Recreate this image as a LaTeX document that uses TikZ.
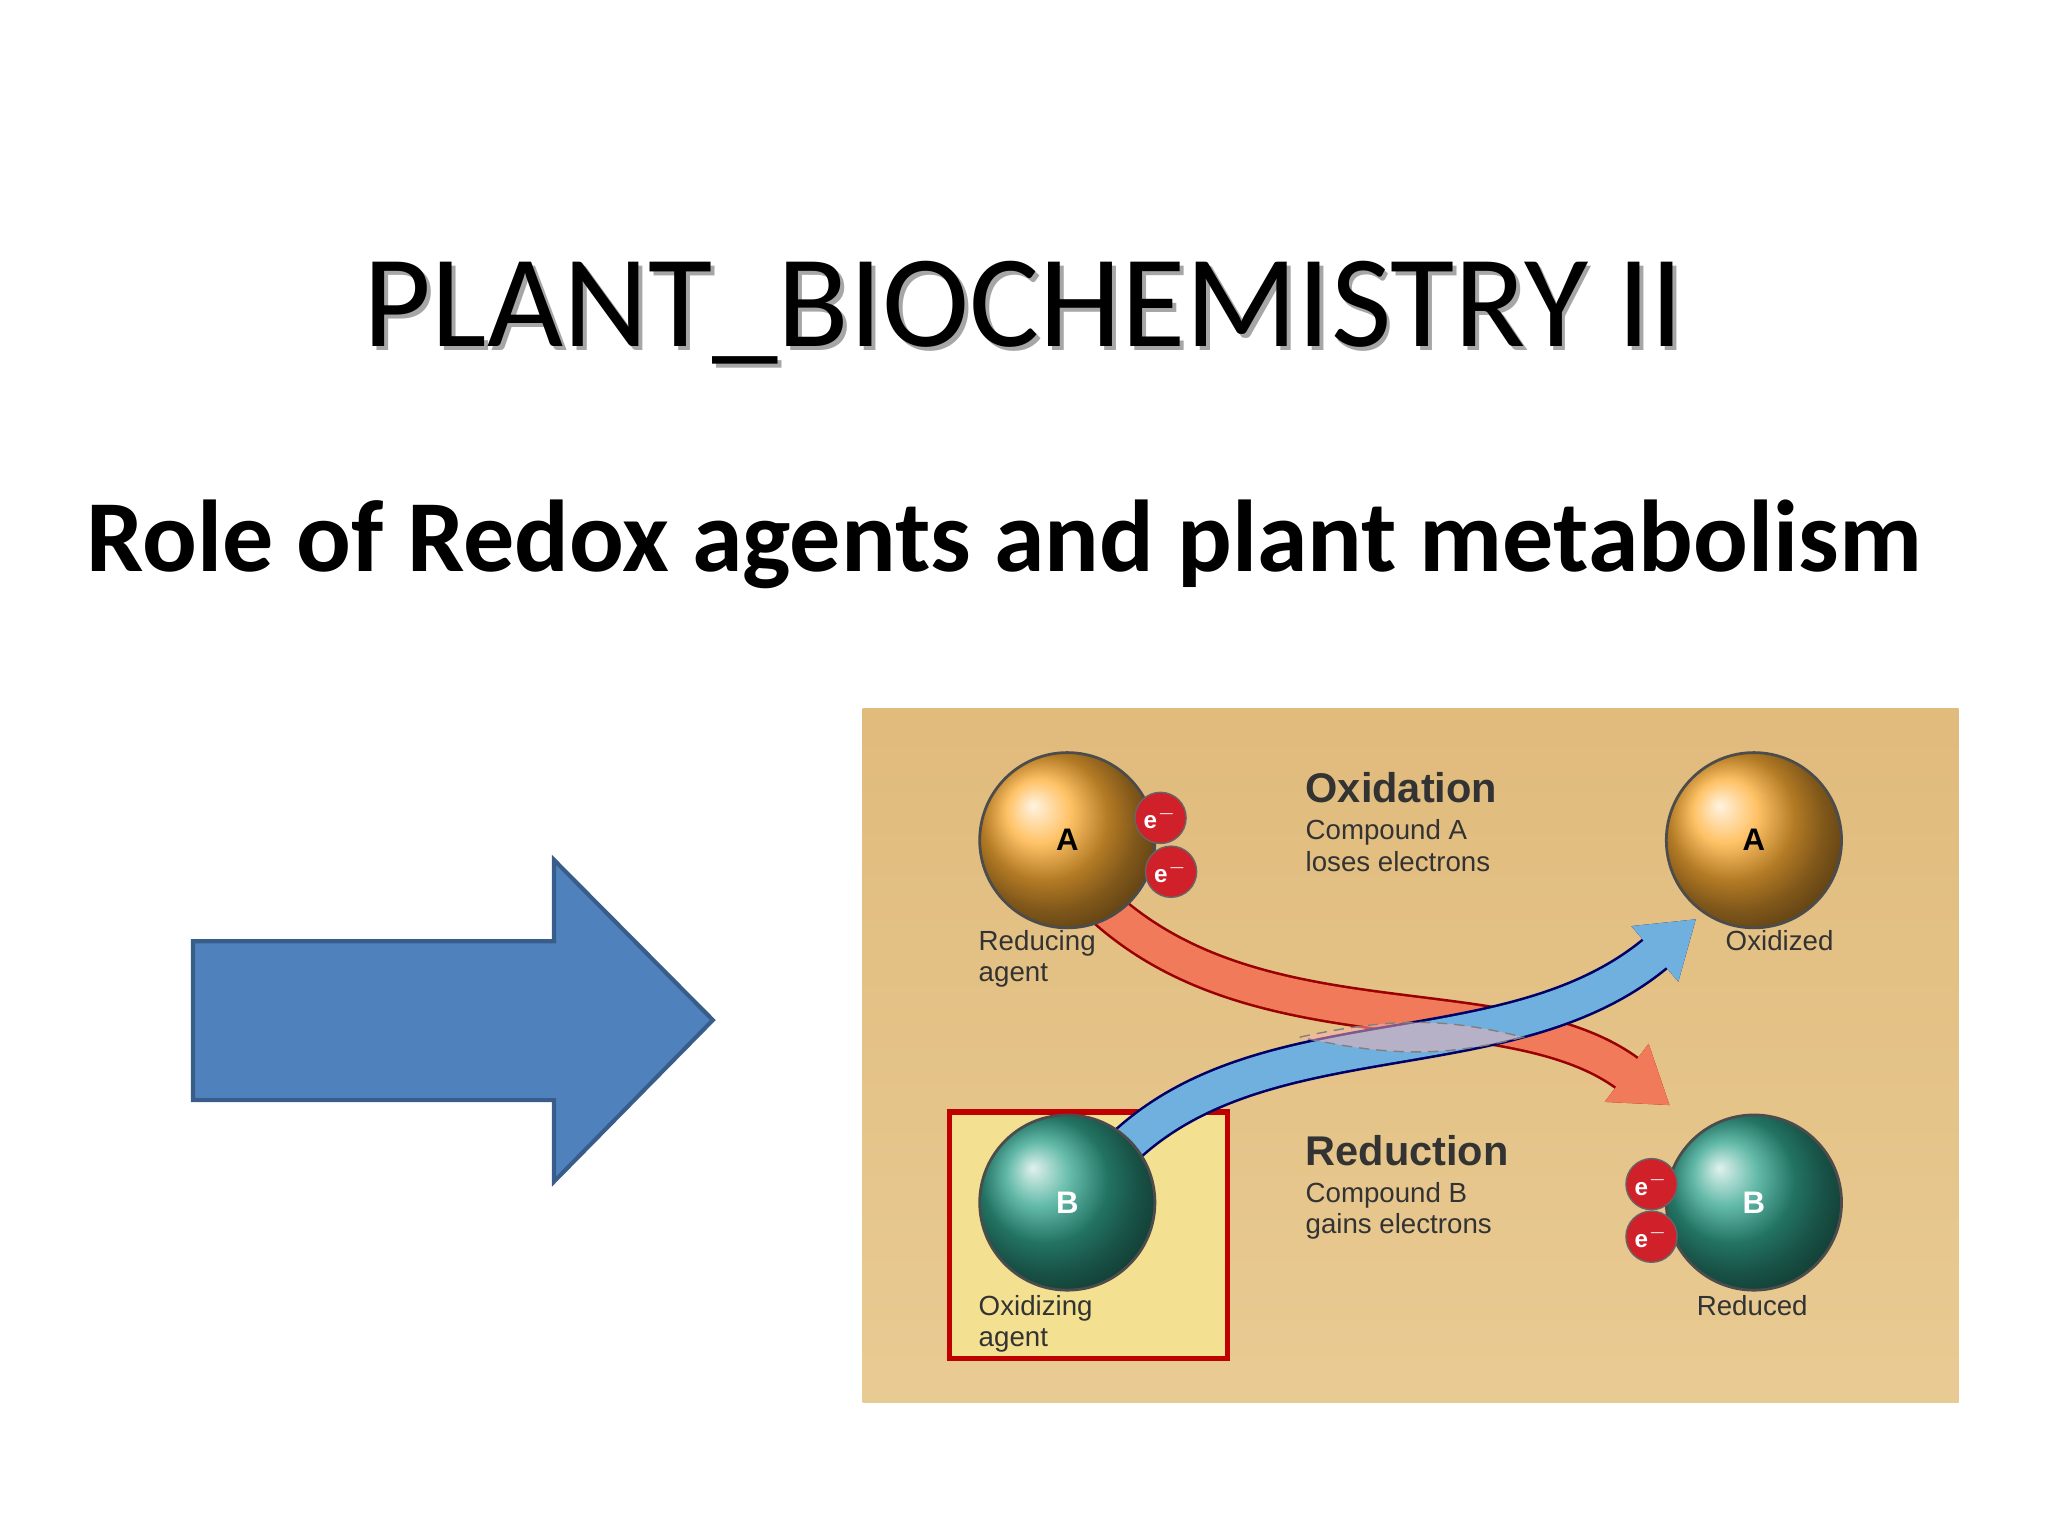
\documentclass[tikz,border=0pt]{standalone}
\usepackage{fontspec}
\setmainfont{Carlito}
\newfontfamily\panelfont{Liberation Sans}
\usetikzlibrary{arrows.meta,positioning,shadows}
\definecolor{slideblue}{HTML}{4F81BD}
\definecolor{slideedge}{HTML}{385D8A}
\definecolor{tan}{HTML}{E6C587}
\definecolor{ballA}{HTML}{FFA010}
\definecolor{ballB}{HTML}{1A9A80}
\definecolor{elec}{HTML}{D0202A}
\definecolor{redarr}{HTML}{F07A5A}
\definecolor{bluearr}{HTML}{6FB0DE}
\tikzset{
  ball/.style={circle,draw=black!70,line width=0.8pt,minimum size=1.78cm,font=\panelfont\bfseries\small},
  electron/.style={circle,draw=black!60,fill=elec,text=white,minimum size=0.52cm,inner sep=0pt,font=\panelfont\bfseries\scriptsize},
  caption/.style={font=\panelfont\fontsize{8}{9}\selectfont,text=black!80,align=left,anchor=north west,inner sep=0pt},
  heading/.style={font=\panelfont\bfseries\fontsize{12}{13}\selectfont,text=black!80,anchor=north west,inner sep=0pt},
  redox/.style={line width=10pt,-{Triangle[length=0.55cm,width=0.7cm]}}
}
\begin{document}
\begin{tikzpicture}[x=0.013333cm,y=-0.013333cm]
  \useasboundingbox (0,0) rectangle (1560,1170);
  % titles
  \node[font=\fontsize{38}{42}\selectfont,text=black!35] at (783,241) {PLANT\_BIOCHEMISTRY II};
  \node[font=\fontsize{38}{42}\selectfont] (title) at (780,238) {PLANT\_BIOCHEMISTRY II};
  \node[font=\bfseries\fontsize{29.5}{34}\selectfont] (sub) at (765,415) {Role of Redox agents and plant metabolism};
  % block arrow
  \draw[slideedge,fill=slideblue,line width=1.2pt]
    (147,717) -- (422,717) -- (422,655) -- (543,777) -- (422,900) -- (422,838) -- (147,838) -- cycle;
  % panel
  \shade[top color=tan!85!brown,bottom color=tan!90!white] (657,540) rectangle (1492,1068);
  \draw[fill=yellow!30!tan!70!white,draw=red!75!black,line width=1.5pt] (723,847) rectangle (935,1035);
  % curved arrows
  \draw[redox,redarr,preaction={draw=red!60!black,line width=11.5pt}] (840,690) .. controls (960,800) and (1150,750) .. (1272,842);
  \draw[redox,bluearr,preaction={draw=blue!40!black,line width=11.5pt}] (852,878) .. controls (960,770) and (1150,820) .. (1292,700);
  \draw[densely dashed,black!50,fill=red!30!white,fill opacity=0.5] (990,790) .. controls (1060,775) and (1100,775) .. (1160,790) .. controls (1100,805) and (1060,805) .. cycle;
  % compounds
  \node[ball,ball color=ballA!85!white] (aleft) at (813,640) {A};
  \node[electron] (e1) at (884,623) {e$^-$};
  \node[electron] (e2) at (892,664) {e$^-$};
  \node[ball,ball color=ballA!85!white] (aright) at (1336,640) {A};
  \node[ball,ball color=ballB!90!white,text=white] (bleft) at (813,916) {B};
  \node[ball,ball color=ballB!90!white,text=white] (bright) at (1336,916) {B};
  \node[electron] (e3) at (1258,902) {e$^-$};
  \node[electron] (e4) at (1258,942) {e$^-$};
  % labels
  \node[heading] (ox) at (994,588) {Oxidation};
  \node[caption] at (994,624) {Compound A\\loses electrons};
  \node[heading] (red) at (994,864) {Reduction};
  \node[caption] at (994,900) {Compound B\\gains electrons};
  \node[caption] at (745,708) {Reducing\\agent};
  \node[caption] at (745,986) {Oxidizing\\agent};
  \node[caption] at (1314,708) {Oxidized};
  \node[caption] at (1292,986) {Reduced};
\end{tikzpicture}
\end{document}
